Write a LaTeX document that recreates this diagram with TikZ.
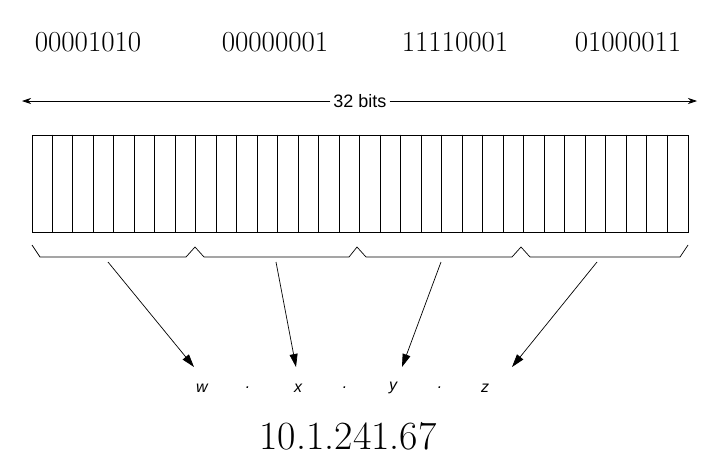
\documentclass[tikz,border=0pt]{standalone}
\usepackage{fontspec}
\newfontfamily\sansf{Liberation Sans}
\usetikzlibrary{arrows.meta,calc}
\tikzset{
  bin/.style={font=\fontsize{29}{29}\selectfont, inner sep=0pt},
  lbl/.style={font=\sansf\itshape\fontsize{16}{16}\selectfont, inner sep=0pt},
  arr/.style={-{Triangle[length=13pt,width=8pt]}, line width=0.7pt},
  ln/.style={line width=0.7pt}
}
\begin{document}
\begin{tikzpicture}[x=1pt,y=-1pt]
\useasboundingbox (0,0) rectangle (723,461);
\node[bin] (b1) at (88,42) {00001010};
\node[bin] (b2) at (275,42) {00000001};
\node[bin] (b3) at (455,42) {11110001};
\node[bin] (b4) at (628,42) {01000011};
\node[font=\sansf\fontsize{18}{18}\selectfont, inner sep=3pt, fill=white] (bits) at (360,101) {32 bits};
\coordinate (la) at (22,101);
\coordinate (ra) at (697,101);
\draw[ln,-{Stealth[length=9pt,width=6pt]}] (bits.west) -- (la);
\draw[ln,-{Stealth[length=9pt,width=6pt]}] (bits.east) -- (ra);
\node[draw, ln, minimum width=656pt, minimum height=97pt, inner sep=0pt] (box) at (360,183.5) {};
\foreach \i in {1,...,31} \draw[ln] ($(box.north west)+(\i*20.5,0)$) -- ($(box.south west)+(\i*20.5,0)$);
\draw[ln] (32,245) -- (40,257) -- (186,257) -- (195,247) -- (204,257) -- (349,257) -- (357,247) -- (366,257) -- (512,257) -- (521,247) -- (530,257) -- (680,257) -- (688,245);
\node[lbl] (w) at (202,388) {w};
\node[lbl] (d1) at (248,388) {.};
\node[lbl] (x) at (298,388) {x};
\node[lbl] (d2) at (345,388) {.};
\node[lbl] (y) at (393,388) {y};
\node[lbl] (d3) at (440,388) {.};
\node[lbl] (z) at (485,388) {z};
\coordinate (s1) at (108,262);
\coordinate (s2) at (276,262);
\coordinate (s3) at (441,262);
\coordinate (s4) at (597,262);
\coordinate (e1) at (194,367);
\coordinate (e2) at (296,367);
\coordinate (e3) at (402,367);
\coordinate (e4) at (512,367);
\draw[arr] (s1) -- (e1);
\draw[arr] (s2) -- (e2);
\draw[arr] (s3) -- (e3);
\draw[arr] (s4) -- (e4);
\node[font=\fontsize{40}{40}\selectfont, inner sep=0pt] (ip) at (348,436) {10.1.241.67};
\end{tikzpicture}
\end{document}
